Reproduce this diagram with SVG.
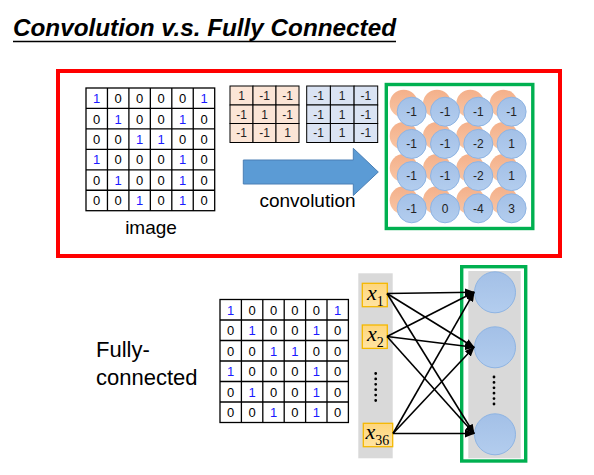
<svg xmlns="http://www.w3.org/2000/svg" width="594" height="475" viewBox="0 0 594 475">
<style>
.cell{fill:#fff;stroke:#000;stroke-width:1.3}
.num{font-family:"Liberation Sans",Arial,sans-serif;font-size:13px;text-anchor:middle;fill:#000}
.one{fill:#1a1aff}
.kn{font-family:"Liberation Sans",Arial,sans-serif;font-size:12px;text-anchor:middle;fill:#222}
.kc1{fill:#fbe5d6;stroke:#000;stroke-width:1}
.kc2{fill:#dae3f3;stroke:#000;stroke-width:1}
.lbl{font-family:"Liberation Sans",Arial,sans-serif;fill:#000}
.or{fill:url(#og)}
.bl{fill:url(#bg);stroke:#8eb4e3;stroke-width:1}
.fv{font-family:"Liberation Sans",Arial,sans-serif;font-size:12px;text-anchor:middle;fill:#222}
.xb{fill:url(#xg);stroke:#f5b800;stroke-width:1.3}
.xt{font-family:"Liberation Serif","Times New Roman",serif;font-style:italic;fill:#000}
.sub{font-style:normal;font-size:14px}
.dots{stroke:#000;stroke-width:2.8;stroke-linecap:round;stroke-dasharray:0 5.4;fill:none}
.con line{stroke:#000;stroke-width:1.6;marker-end:url(#ah)}
</style>
<defs>
<linearGradient id="og" x1="0" y1="0" x2="0" y2="1"><stop offset="0" stop-color="#f4b08a"/><stop offset="1" stop-color="#f8c6a6"/></linearGradient>
<linearGradient id="bg" x1="0" y1="0" x2="0" y2="1"><stop offset="0" stop-color="#a3c0e7"/><stop offset="1" stop-color="#b3cdee"/></linearGradient>
<linearGradient id="xg" x1="0" y1="0" x2="0" y2="1"><stop offset="0" stop-color="#fed67c"/><stop offset="1" stop-color="#ffe4a3"/></linearGradient>
<marker id="ah" markerWidth="10" markerHeight="8" refX="9" refY="4" orient="auto" markerUnits="userSpaceOnUse"><path d="M0,0 L10,4 L0,8 Z" fill="#000"/></marker>
</defs>
<rect width="594" height="475" fill="#fff"/>

<g id="title">
<text x="13" y="36" font-family="'Liberation Sans',Arial,sans-serif" font-size="24" font-weight="bold" font-style="italic" textLength="383" lengthAdjust="spacingAndGlyphs">Convolution v.s. Fully Connected</text>
<line x1="13" y1="41.5" x2="396" y2="41.5" stroke="#000" stroke-width="1.4"/>
</g>

<g id="conv-frame"><rect x="58" y="71" width="502" height="185" fill="none" stroke="#ff0000" stroke-width="4"/></g>

<g id="image-matrix">
<g transform="translate(86,88)">
<rect class="cell" x="0" y="0" width="128.7" height="122.7"/>
<g stroke="#000" stroke-width="1.3">
<line x1="21.45" y1="0" x2="21.45" y2="122.7"/><line x1="42.9" y1="0" x2="42.9" y2="122.7"/><line x1="64.35" y1="0" x2="64.35" y2="122.7"/><line x1="85.8" y1="0" x2="85.8" y2="122.7"/><line x1="107.25" y1="0" x2="107.25" y2="122.7"/>
<line x1="0" y1="20.45" x2="128.7" y2="20.45"/><line x1="0" y1="40.9" x2="128.7" y2="40.9"/><line x1="0" y1="61.35" x2="128.7" y2="61.35"/><line x1="0" y1="81.8" x2="128.7" y2="81.8"/><line x1="0" y1="102.25" x2="128.7" y2="102.25"/>
</g>
<g class="num">
<text x="10.7" y="15" class="one">1</text><text x="32.2" y="15">0</text><text x="53.6" y="15">0</text><text x="75.1" y="15">0</text><text x="96.5" y="15">0</text><text x="118" y="15" class="one">1</text>
<text x="10.7" y="35.5">0</text><text x="32.2" y="35.5" class="one">1</text><text x="53.6" y="35.5">0</text><text x="75.1" y="35.5">0</text><text x="96.5" y="35.5" class="one">1</text><text x="118" y="35.5">0</text>
<text x="10.7" y="56">0</text><text x="32.2" y="56">0</text><text x="53.6" y="56" class="one">1</text><text x="75.1" y="56" class="one">1</text><text x="96.5" y="56">0</text><text x="118" y="56">0</text>
<text x="10.7" y="76.4" class="one">1</text><text x="32.2" y="76.4">0</text><text x="53.6" y="76.4">0</text><text x="75.1" y="76.4">0</text><text x="96.5" y="76.4" class="one">1</text><text x="118" y="76.4">0</text>
<text x="10.7" y="96.9">0</text><text x="32.2" y="96.9" class="one">1</text><text x="53.6" y="96.9">0</text><text x="75.1" y="96.9">0</text><text x="96.5" y="96.9" class="one">1</text><text x="118" y="96.9">0</text>
<text x="10.7" y="117.3">0</text><text x="32.2" y="117.3">0</text><text x="53.6" y="117.3" class="one">1</text><text x="75.1" y="117.3">0</text><text x="96.5" y="117.3" class="one">1</text><text x="118" y="117.3">0</text>
</g>
</g>
<text class="lbl" x="151" y="233.5" font-size="19" text-anchor="middle">image</text>
</g>

<g id="filter1">
<g transform="translate(230,86)">
<rect class="kc1" x="0" y="0" width="23" height="19"/><rect class="kc1" x="23" y="0" width="23" height="19"/><rect class="kc1" x="46" y="0" width="23" height="19"/>
<rect class="kc1" x="0" y="19" width="23" height="18.5"/><rect class="kc1" x="23" y="19" width="23" height="18.5"/><rect class="kc1" x="46" y="19" width="23" height="18.5"/>
<rect class="kc1" x="0" y="37.5" width="23" height="19"/><rect class="kc1" x="23" y="37.5" width="23" height="19"/><rect class="kc1" x="46" y="37.5" width="23" height="19"/>
<g class="kn">
<text x="11.5" y="14">1</text><text x="34.5" y="14">-1</text><text x="57.5" y="14">-1</text>
<text x="11.5" y="32.5">-1</text><text x="34.5" y="32.5">1</text><text x="57.5" y="32.5">-1</text>
<text x="11.5" y="51">-1</text><text x="34.5" y="51">-1</text><text x="57.5" y="51">1</text>
</g>
</g>
</g>

<g id="filter2">
<g transform="translate(306.7,86)">
<rect class="kc2" x="0" y="0" width="23.7" height="19"/><rect class="kc2" x="23.7" y="0" width="23.7" height="19"/><rect class="kc2" x="47.4" y="0" width="23.6" height="19"/>
<rect class="kc2" x="0" y="19" width="23.7" height="18.5"/><rect class="kc2" x="23.7" y="19" width="23.7" height="18.5"/><rect class="kc2" x="47.4" y="19" width="23.6" height="18.5"/>
<rect class="kc2" x="0" y="37.5" width="23.7" height="19"/><rect class="kc2" x="23.7" y="37.5" width="23.7" height="19"/><rect class="kc2" x="47.4" y="37.5" width="23.6" height="19"/>
<g class="kn">
<text x="11.8" y="14">-1</text><text x="35.5" y="14">1</text><text x="59.2" y="14">-1</text>
<text x="11.8" y="32.5">-1</text><text x="35.5" y="32.5">1</text><text x="59.2" y="32.5">-1</text>
<text x="11.8" y="51">-1</text><text x="35.5" y="51">1</text><text x="59.2" y="51">-1</text>
</g>
</g>
</g>

<g id="conv-arrow">
<polygon points="243.3,160 353.3,160 353.3,148.3 378.3,172 353.3,195.5 353.3,184 243.3,184" fill="#5b9bd5" stroke="#4a7fb5" stroke-width="1"/>
<text class="lbl" x="307.5" y="206.5" font-size="19" text-anchor="middle">convolution</text>
</g>

<g id="feature-map">
<rect x="386.3" y="84.5" width="146.5" height="144" fill="#fff" stroke="#00b050" stroke-width="3.4"/>
<g>
<circle class="or" cx="403.7" cy="103.7" r="14"/><circle class="or" cx="437" cy="103.7" r="14"/><circle class="or" cx="470.3" cy="103.7" r="14"/><circle class="or" cx="503.6" cy="103.7" r="14"/>
<circle class="or" cx="403.7" cy="135.9" r="14"/><circle class="or" cx="437" cy="135.9" r="14"/><circle class="or" cx="470.3" cy="135.9" r="14"/><circle class="or" cx="503.6" cy="135.9" r="14"/>
<circle class="or" cx="403.7" cy="168.1" r="14"/><circle class="or" cx="437" cy="168.1" r="14"/><circle class="or" cx="470.3" cy="168.1" r="14"/><circle class="or" cx="503.6" cy="168.1" r="14"/>
<circle class="or" cx="403.7" cy="200.3" r="14"/><circle class="or" cx="437" cy="200.3" r="14"/><circle class="or" cx="470.3" cy="200.3" r="14"/><circle class="or" cx="503.6" cy="200.3" r="14"/>
</g>
<g>
<circle class="bl" cx="411.7" cy="111.7" r="14.5"/><circle class="bl" cx="445" cy="111.7" r="14.5"/><circle class="bl" cx="478.3" cy="111.7" r="14.5"/><circle class="bl" cx="511.6" cy="111.7" r="14.5"/>
<circle class="bl" cx="411.7" cy="143.9" r="14.5"/><circle class="bl" cx="445" cy="143.9" r="14.5"/><circle class="bl" cx="478.3" cy="143.9" r="14.5"/><circle class="bl" cx="511.6" cy="143.9" r="14.5"/>
<circle class="bl" cx="411.7" cy="176.1" r="14.5"/><circle class="bl" cx="445" cy="176.1" r="14.5"/><circle class="bl" cx="478.3" cy="176.1" r="14.5"/><circle class="bl" cx="511.6" cy="176.1" r="14.5"/>
<circle class="bl" cx="411.7" cy="208.3" r="14.5"/><circle class="bl" cx="445" cy="208.3" r="14.5"/><circle class="bl" cx="478.3" cy="208.3" r="14.5"/><circle class="bl" cx="511.6" cy="208.3" r="14.5"/>
</g>
<g class="fv">
<text x="411.7" y="116">-1</text><text x="445" y="116">-1</text><text x="478.3" y="116">-1</text><text x="511.6" y="116">-1</text>
<text x="411.7" y="148.2">-1</text><text x="445" y="148.2">-1</text><text x="478.3" y="148.2">-2</text><text x="511.6" y="148.2">1</text>
<text x="411.7" y="180.4">-1</text><text x="445" y="180.4">-1</text><text x="478.3" y="180.4">-2</text><text x="511.6" y="180.4">1</text>
<text x="411.7" y="212.6">-1</text><text x="445" y="212.6">0</text><text x="478.3" y="212.6">-4</text><text x="511.6" y="212.6">3</text>
</g>
</g>

<g id="fc-label">
<text class="lbl" x="96" y="357" font-size="22">Fully-</text>
<text class="lbl" x="96" y="385" font-size="22">connected</text>
</g>

<g id="fc-matrix">
<g transform="translate(220,299.5)">
<rect class="cell" x="0" y="0" width="128.4" height="123"/>
<g stroke="#000" stroke-width="1.3">
<line x1="21.4" y1="0" x2="21.4" y2="123"/><line x1="42.8" y1="0" x2="42.8" y2="123"/><line x1="64.2" y1="0" x2="64.2" y2="123"/><line x1="85.6" y1="0" x2="85.6" y2="123"/><line x1="107" y1="0" x2="107" y2="123"/>
<line x1="0" y1="20.5" x2="128.4" y2="20.5"/><line x1="0" y1="41" x2="128.4" y2="41"/><line x1="0" y1="61.5" x2="128.4" y2="61.5"/><line x1="0" y1="82" x2="128.4" y2="82"/><line x1="0" y1="102.5" x2="128.4" y2="102.5"/>
</g>
<g class="num">
<text x="10.7" y="15" class="one">1</text><text x="32.1" y="15">0</text><text x="53.5" y="15">0</text><text x="74.9" y="15">0</text><text x="96.3" y="15">0</text><text x="117.7" y="15" class="one">1</text>
<text x="10.7" y="35.5">0</text><text x="32.1" y="35.5" class="one">1</text><text x="53.5" y="35.5">0</text><text x="74.9" y="35.5">0</text><text x="96.3" y="35.5" class="one">1</text><text x="117.7" y="35.5">0</text>
<text x="10.7" y="56">0</text><text x="32.1" y="56">0</text><text x="53.5" y="56" class="one">1</text><text x="74.9" y="56" class="one">1</text><text x="96.3" y="56">0</text><text x="117.7" y="56">0</text>
<text x="10.7" y="76.5" class="one">1</text><text x="32.1" y="76.5">0</text><text x="53.5" y="76.5">0</text><text x="74.9" y="76.5">0</text><text x="96.3" y="76.5" class="one">1</text><text x="117.7" y="76.5">0</text>
<text x="10.7" y="97">0</text><text x="32.1" y="97" class="one">1</text><text x="53.5" y="97">0</text><text x="74.9" y="97">0</text><text x="96.3" y="97" class="one">1</text><text x="117.7" y="97">0</text>
<text x="10.7" y="117.5">0</text><text x="32.1" y="117.5">0</text><text x="53.5" y="117.5" class="one">1</text><text x="74.9" y="117.5">0</text><text x="96.3" y="117.5" class="one">1</text><text x="117.7" y="117.5">0</text>
</g>
</g>
</g>

<g id="input-layer">
<rect x="358.3" y="273.3" width="34.4" height="185" fill="#d9d9d9"/>
<g id="x1"><rect class="xb" x="362.3" y="283.3" width="25" height="23.4"/><text class="xt" x="367" y="299.5" font-size="22">x<tspan class="sub" dy="6">1</tspan></text></g>
<g id="x2"><rect class="xb" x="362.3" y="325" width="25" height="23.4"/><text class="xt" x="367" y="341" font-size="22">x<tspan class="sub" dy="6">2</tspan></text></g>
<line class="dots" x1="375.7" y1="373.5" x2="375.7" y2="404"/>
<g id="x36"><rect class="xb" x="363.3" y="423.3" width="29.4" height="23.4"/><text class="xt" x="365.5" y="439" font-size="22">x<tspan class="sub" dy="6">36</tspan></text></g>
</g>

<g id="hidden-layer">
<rect x="461.7" y="266.7" width="64" height="194.3" fill="none" stroke="#00b050" stroke-width="3.4"/>
<rect x="468.3" y="271" width="52.4" height="187.3" fill="#d9d9d9"/>
<circle class="bl" cx="495" cy="292.3" r="20.5"/>
<circle class="bl" cx="495" cy="347.3" r="20.5"/>
<line class="dots" x1="494" y1="377" x2="494" y2="407"/>
<circle class="bl" cx="495" cy="434.3" r="20.5"/>
</g>

<g id="connectors" class="con">
<line x1="387" y1="293.5" x2="474" y2="292.3"/>
<line x1="387" y1="293.5" x2="474" y2="347.3"/>
<line x1="387" y1="293.5" x2="474" y2="433.5"/>
<line x1="387" y1="336.5" x2="474" y2="292.3"/>
<line x1="387" y1="336.5" x2="474" y2="347.3"/>
<line x1="387" y1="336.5" x2="474" y2="433.5"/>
<line x1="393" y1="433.5" x2="474" y2="292.3"/>
<line x1="393" y1="433.5" x2="474" y2="347.3"/>
<line x1="393" y1="433.5" x2="474" y2="433.5"/>
</g>
</svg>
